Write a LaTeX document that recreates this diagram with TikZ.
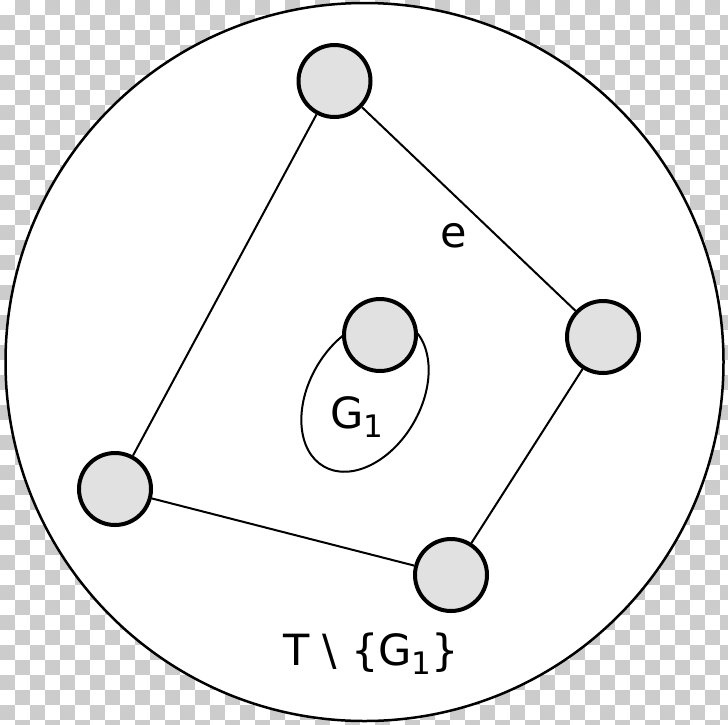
\documentclass[tikz,border=0pt]{standalone}
\usepackage{fontspec}
\setmainfont{DejaVu Sans}
\usetikzlibrary{shapes.geometric}
\definecolor{checkgray}{RGB}{204,204,204}
\definecolor{vtxgray}{RGB}{225,225,225}
\tikzset{
  vtx/.style={circle, draw, line width=4pt, fill=vtxgray, minimum size=72pt, inner sep=0pt},
  edgeline/.style={line width=2pt},
  lbl/.style={font=\fontsize{43}{43}\selectfont, inner sep=0pt, anchor=base}
}
\newcommand{\subone}{\raisebox{-9pt}{\fontsize{31}{31}\selectfont 1}}
\begin{document}
\begin{tikzpicture}[x=1pt,y=-1pt]
\useasboundingbox (0,0) rectangle (728,724);
\begin{scope}
\clip (0,0) rectangle (728,724);
\foreach \i in {0,...,48}{
  \foreach \j in {0,...,48}{
    \pgfmathtruncatemacro\s{mod(\i+\j,2)}
    \ifnum\s=1 \fill[checkgray] (\i*15,\j*15) rectangle ++(15,15);\fi
  }
}
\end{scope}
\node[circle, draw, fill=white, line width=2.5pt, minimum size=718pt, inner sep=0pt] (outer) at (364.5,362) {};
\node[ellipse, draw, line width=2pt, minimum width=165pt, minimum height=112pt, inner sep=0pt, rotate=60] (g) at (365,395) {};
\node[vtx] (t) at (334.5,81) {};
\node[vtx] (r) at (603,337) {};
\node[vtx] (b) at (451,575) {};
\node[vtx] (l) at (115,489) {};
\node[vtx] (c) at (380,335) {};
\draw[edgeline] (t) -- (r);
\draw[edgeline] (r) -- (b);
\draw[edgeline] (b) -- (l);
\draw[edgeline] (l) -- (t);
\node[lbl] (e) at (454,247) {e};
\node[lbl] (g1) at (357,428) {G\subone};
\node[lbl] (tg) at (371,665) {T \textbackslash\ \{G\subone\}};
\end{tikzpicture}
\end{document}
